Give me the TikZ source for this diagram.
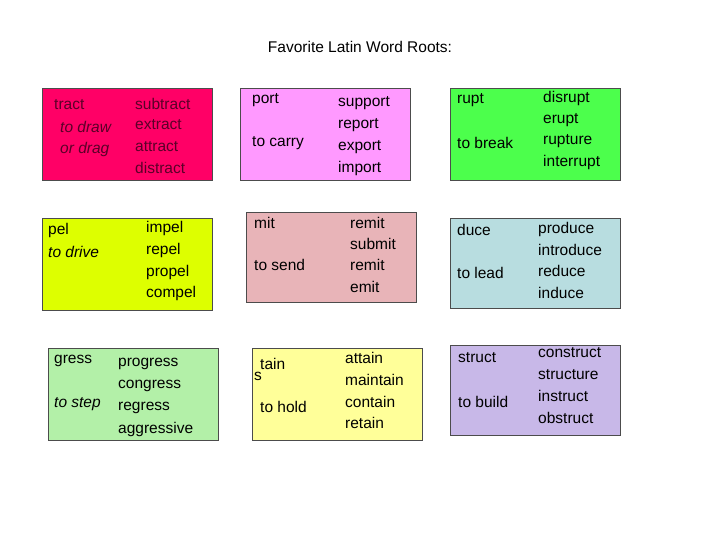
\documentclass[tikz,border=0pt]{standalone}
\usepackage{fontspec}
\setmainfont{Liberation Sans}
\begin{document}
\begin{tikzpicture}[x=1pt,y=-1pt,
  box/.style={draw=black!70,line width=0.8pt},
  t/.style={anchor=west,inner sep=0pt,font=\fontsize{15.5}{18}\selectfont},
  it/.style={t,font=\fontsize{15.5}{18}\selectfont\itshape}]
\useasboundingbox (0,0) rectangle (720,540);
\definecolor{c1}{HTML}{FF0066}\definecolor{c2}{HTML}{FF99FF}\definecolor{c3}{HTML}{4CFF4C}
\definecolor{c4}{HTML}{DDFF00}\definecolor{c5}{HTML}{E8B4B8}\definecolor{c6}{HTML}{B8DDE0}
\definecolor{c7}{HTML}{B3F0A8}\definecolor{c8}{HTML}{FFFF99}\definecolor{c9}{HTML}{C8B8E8}
\definecolor{tx1}{HTML}{5A0028}
\node[t,anchor=center] (title) at (360,47) {Favorite Latin Word Roots:};
% box 1
\path[box,fill=c1] (42,88) rectangle (212,180);
\begin{scope}[every node/.append style={text=tx1}]
\node[t] (a1) at (54,105) {tract};
\node[it] (a2) at (60,127) {to draw};
\node[it] (a3) at (60,149) {or drag};
\node[t] (a4) at (135,104) {subtract};
\node[t] (a5) at (135,125) {extract};
\node[t] (a6) at (135,147) {attract};
\node[t] (a7) at (135,168) {distract};
\end{scope}
% box 2
\path[box,fill=c2] (240,88) rectangle (410,180);
\node[t] (b1) at (252,100) {port};
\node[t] (b2) at (252,143) {to carry};
\node[t] (b3) at (338,103) {support};
\node[t] (b4) at (338,125) {report};
\node[t] (b5) at (338,147) {export};
\node[t] (b6) at (338,168) {import};
% box 3
\path[box,fill=c3] (450,88) rectangle (620,180);
\node[t] (c1n) at (457,100) {rupt};
\node[t] (c2n) at (457,143) {to break};
\node[t] (c3n) at (543,98) {disrupt};
\node[t] (c4n) at (543,120) {erupt};
\node[t] (c5n) at (543,141) {rupture};
\node[t] (c6n) at (543,162) {interrupt};
% box 4
\path[box,fill=c4] (42,218) rectangle (212,310);
\node[t] (d1) at (48,230) {pel};
\node[it] (d2) at (48,252) {to drive};
\node[t] (d3) at (146,228) {impel};
\node[t] (d4) at (146,250) {repel};
\node[t] (d5) at (146,272) {propel};
\node[t] (d6) at (146,293) {compel};
% box 5
\path[box,fill=c5] (246,212) rectangle (416,302);
\node[t] (e1) at (254,223) {mit};
\node[t] (e2) at (254,265) {to send};
\node[t] (e3) at (350,223) {remit};
\node[t] (e4) at (350,244) {submit};
\node[t] (e5) at (350,265) {remit};
\node[t] (e6) at (350,287) {emit};
% box 6
\path[box,fill=c6] (450,218) rectangle (620,308);
\node[t] (f1) at (457,230) {duce};
\node[t] (f2) at (457,273) {to lead};
\node[t] (f3) at (538,229) {produce};
\node[t] (f4) at (538,250) {introduce};
\node[t] (f5) at (538,271) {reduce};
\node[t] (f6) at (538,293) {induce};
% box 7
\path[box,fill=c7] (48,348) rectangle (218,440);
\node[t] (g1) at (54,361) {gress};
\node[it] (g2) at (54,404) {to step};
\node[t] (g3) at (118,364) {progress};
\node[t] (g4) at (118,386) {congress};
\node[t] (g5) at (118,408) {regress};
\node[t] (g6) at (118,429) {aggressive};
% box 8
\path[box,fill=c8] (252,348) rectangle (422,440);
\node[t] (h1) at (260,364) {tain};
\node[t] (h0) at (254,376) {s};
\node[t] (h2) at (260,407) {to hold};
\node[t] (h3) at (345,358) {attain};
\node[t] (h4) at (345,380) {maintain};
\node[t] (h5) at (345,402) {contain};
\node[t] (h6) at (345,423) {retain};
% box 9
\path[box,fill=c9] (450,345) rectangle (620,435);
\node[t] (i1) at (458,358) {struct};
\node[t] (i2) at (458,402) {to build};
\node[t] (i3) at (538,353) {construct};
\node[t] (i4) at (538,375) {structure};
\node[t] (i5) at (538,396) {instruct};
\node[t] (i6) at (538,418) {obstruct};
\end{tikzpicture}
\end{document}
